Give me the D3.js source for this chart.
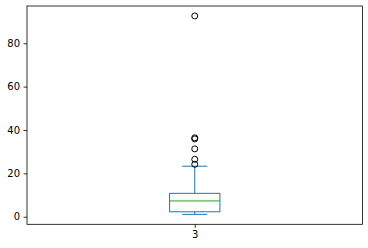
<!DOCTYPE html>
<html>
<head>
<meta charset="utf-8">
<script src="https://cdn.jsdelivr.net/npm/d3@7"></script>
<style>
  html, body { margin: 0; padding: 0; background: #fff; }
  svg { display: block; }
  .tick text { font-family: "DejaVu Sans", sans-serif; font-size: 10px; fill: #000; }
</style>
</head>
<body>
<div id="chart"></div>
<script>
// ── Data ───────────────────────────────────────────────────────────────────
const categories = ["3"];
const whiskerLow  = [1.1];
const quartile1   = [2.3];
const medians     = [7.3];
const quartile3   = [10.8];
const whiskerHigh = [23.3];
const fliers      = [[92.6, 36.4, 35.9, 31.3, 26.5, 24.2]];
const yTicks      = [0, 20, 40, 60, 80];

// ── Dimensions ─────────────────────────────────────────────────────────────
const width  = 368;
const height = 248;
const margin = { top: 6, right: 5.5, bottom: 23.7, left: 27 };

const svg = d3.select("#chart")
  .append("svg")
  .attr("width", width)
  .attr("height", height);

// matplotlib-style 5% padding around all drawn values
const allVals = whiskerLow.concat(whiskerHigh, fliers.flat());
const lo = d3.min(allVals), hi = d3.max(allVals);
const pad = (hi - lo) * 0.05;

const y = d3.scaleLinear()
  .domain([lo - pad, hi + pad])
  .range([height - margin.bottom, margin.top]);

const x = d3.scaleLinear()
  .domain([0.5, categories.length + 0.5])
  .range([margin.left, width - margin.right]);

const boxW = 0.15;

// ── Boxes ──────────────────────────────────────────────────────────────────
const blue = "#1f77b4";
categories.forEach((c, i) => {
  const pos = i + 1;
  const g = svg.append("g");

  g.append("line")
    .attr("x1", x(pos)).attr("x2", x(pos))
    .attr("y1", y(quartile3[i])).attr("y2", y(whiskerHigh[i]))
    .attr("stroke", blue);
  g.append("line")
    .attr("x1", x(pos)).attr("x2", x(pos))
    .attr("y1", y(quartile1[i])).attr("y2", y(whiskerLow[i]))
    .attr("stroke", blue);

  [whiskerLow[i], whiskerHigh[i]].forEach(v => {
    g.append("line")
      .attr("x1", x(pos - boxW / 4)).attr("x2", x(pos + boxW / 4))
      .attr("y1", y(v)).attr("y2", y(v))
      .attr("stroke", blue);
  });

  g.append("rect")
    .attr("x", x(pos - boxW / 2))
    .attr("width", x(pos + boxW / 2) - x(pos - boxW / 2))
    .attr("y", y(quartile3[i]))
    .attr("height", y(quartile1[i]) - y(quartile3[i]))
    .attr("fill", "none")
    .attr("stroke", blue);

  g.append("line")
    .attr("x1", x(pos - boxW / 2)).attr("x2", x(pos + boxW / 2))
    .attr("y1", y(medians[i])).attr("y2", y(medians[i]))
    .attr("stroke", "#2ca02c");

  g.selectAll("circle")
    .data(fliers[i])
    .enter()
    .append("circle")
    .attr("cx", x(pos))
    .attr("cy", d => y(d))
    .attr("r", 3)
    .attr("fill", "none")
    .attr("stroke", "#000")
    .attr("stroke-width", 1);
});

// ── Axes ───────────────────────────────────────────────────────────────────
const yAxis = d3.axisLeft(y).tickValues(yTicks).tickSize(3.5).tickPadding(3.5);
svg.append("g")
  .attr("transform", `translate(${margin.left},0)`)
  .call(yAxis)
  .call(g => g.select(".domain").remove());

const xAxis = d3.axisBottom(x)
  .tickValues(categories.map((c, i) => i + 1))
  .tickFormat((d, i) => categories[i])
  .tickSize(3.5).tickPadding(3.5);
svg.append("g")
  .attr("transform", `translate(0,${height - margin.bottom})`)
  .call(xAxis)
  .call(g => g.select(".domain").remove());

svg.selectAll(".tick line").attr("stroke", "#000").attr("stroke-width", 0.8);

// frame
svg.append("rect")
  .attr("x", margin.left)
  .attr("y", margin.top)
  .attr("width", width - margin.left - margin.right)
  .attr("height", height - margin.top - margin.bottom)
  .attr("fill", "none")
  .attr("stroke", "#000")
  .attr("stroke-width", 0.8);
</script>
</body>
</html>
